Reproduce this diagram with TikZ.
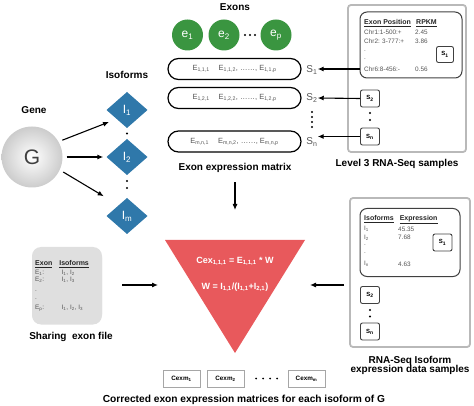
\documentclass[tikz,border=0pt]{standalone}
\usepackage{fontspec}
\setmainfont{Liberation Sans}
\usetikzlibrary{shapes.geometric,arrows.meta,calc,shadows}
\definecolor{dblue}{HTML}{2F78AA}
\definecolor{egreen}{HTML}{3A9540}
\definecolor{tred}{HTML}{E8595C}
\definecolor{txtg}{HTML}{555555}
\newcommand{\myfs}[1]{\fontsize{#1}{#1}\selectfont}
\begin{document}
\begin{tikzpicture}[x=1pt,y=-1pt,
  lbl/.style={font=\bfseries\myfs{10}, align=center},
  arr/.style={-{Latex[length=6pt,width=5pt]}, line width=1.1pt},
  ecirc/.style={circle, fill=egreen, minimum size=31pt, inner sep=0pt, text=white, font=\myfs{12}},
  isotxt/.style={text=white, font=\myfs{12}, minimum width=41pt, minimum height=36pt, inner sep=0pt},
  rowbox/.style={draw, line width=1.2pt, rounded corners=10.5pt, minimum width=133pt, minimum height=21pt, inner sep=0pt, text=txtg, font=\myfs{7.5}},
  slab/.style={text=txtg, font=\myfs{10}, inner sep=0pt},
  outbox/.style={draw=gray!55, line width=1.8pt, rounded corners=3pt, inner sep=0pt},
  inbox/.style={draw=gray!50!black, line width=1pt, rounded corners=7pt, inner sep=0pt},
  sbox/.style={draw=gray!50!black, line width=0.9pt, rounded corners=2pt, minimum width=19pt, minimum height=17pt, inner sep=0pt, font=\bfseries\myfs{6}},
  tbl/.style={anchor=west, inner sep=0pt, text=txtg, font=\myfs{6.4}},
  tblh/.style={anchor=west, inner sep=0pt, text=black!85, font=\bfseries\myfs{7}},
  cbox/.style={draw=gray!70, line width=0.9pt, minimum width=37pt, minimum height=17pt, inner sep=0pt, font=\bfseries\myfs{6.3}},
  tri/.style={text=white, font=\bfseries\myfs{9}, inner sep=0pt},
  dotf/.style={fill=black}
]
\useasboundingbox (0,0) rectangle (474,406);

% Gene and isoforms
\node[lbl] (genelbl) at (34,110) {Gene};
\node[circle, minimum size=61pt, inner sep=0pt, shading=radial, inner color=white, outer color=gray!40, font=\myfs{21}, text=black!75] (G) at (32,157) {G};
\node[lbl] (isolbl) at (127,75) {Isoforms};
\path[fill=dblue] (127,92) -- (147.5,110) -- (127,128) -- (106.5,110) -- cycle;
\path[fill=dblue] (127,139) -- (147.5,157) -- (127,175) -- (106.5,157) -- cycle;
\path[fill=dblue] (127,198) -- (147.5,216) -- (127,234) -- (106.5,216) -- cycle;
\node[isotxt] (I1) at (127,110) {I\textsubscript{1}};
\node[isotxt] (I2) at (127,157) {I\textsubscript{2}};
\node[isotxt] (Im) at (127,216) {I\textsubscript{m}};
\coordinate (I1in) at (109,122);
\fill[dotf] (127,133.5) circle (1.2);
\fill[dotf] (127,181) circle (1.2);
\fill[dotf] (127,188) circle (1.2);
\draw[arr, shorten <=4pt] (G.30) -- (I1in);
\draw[arr, shorten <=4pt, shorten >=3pt] (G.east) -- (I2.west);
\draw[arr, shorten <=4pt, shorten >=3pt] (G.-25) -- (Im.north west);

% Exons
\node[lbl] (exlbl) at (235,7) {Exons};
\node[ecirc] (e1) at (187.5,35) {e\textsubscript{1}};
\node[ecirc] (e2) at (224,35) {e\textsubscript{2}};
\node[ecirc] (ep) at (276,35) {e\textsubscript{p}};
\foreach \x in {245,250,255} \fill[dotf] (\x,35) circle (1.2);

% Exon expression matrix
\node[rowbox] (r1) at (234.5,69) {E\textsubscript{1,1,1}\hspace{9pt}E\textsubscript{1,1,2}, \dots\dots, E\textsubscript{1,1,p}};
\node[rowbox] (r2) at (234.5,98) {E\textsubscript{1,2,1}\hspace{9pt}E\textsubscript{1,2,2}, \dots\dots, E\textsubscript{1,2,p}};
\node[rowbox] (r3) at (234.5,141.5) {E\textsubscript{m,n,1}\hspace{9pt}E\textsubscript{m,n,2}, \dots\dots, E\textsubscript{m,n,p}};
\node[slab] (S1) at (312,70) {S\textsubscript{1}};
\node[slab] (S2) at (312,98) {S\textsubscript{2}};
\node[slab] (Sn) at (312,142) {S\textsubscript{n}};
\foreach \y in {112,117,122,127} \fill[dotf] (312,\y) circle (1.1);
\node[lbl] (matlbl) at (235,168) {Exon expression matrix};

% Level 3 RNA-Seq samples
\node[outbox, minimum width=118pt, minimum height=147pt] (l3) at (407,78.5) {};
\node[inbox, minimum width=102pt, minimum height=66pt] (l3in) at (411,45) {};
\node[tblh] (h1) at (364,23) {\underline{Exon Position}};
\node[tblh] (h2) at (416,23) {\underline{RPKM}};
\node[tbl] (c1) at (364,32.5) {Chr1:1-500:+};
\node[tbl] (v1) at (415,32.5) {2.45};
\node[tbl] (c2) at (364,41.5) {Chr2: 3-777:+};
\node[tbl] (v2) at (415,41.5) {3.86};
\node[tbl] (d1) at (364,51) {.};
\node[tbl] (d2) at (364,59) {.};
\node[tbl] (c6) at (364,69) {Chr6:8-456:-};
\node[tbl] (v6) at (415,69) {0.56};
\node[sbox, minimum width=17pt, minimum height=16pt] (l3s1) at (445,54.5) {S\textsubscript{1}};
\node[sbox] (l3s2) at (370,98.5) {S\textsubscript{2}};
\node[sbox] (l3sn) at (370,136.5) {S\textsubscript{n}};
\fill[dotf] (370,113) circle (1.1);
\fill[dotf] (370,120) circle (1.1);
\node[lbl] (l3lbl) at (397,164) {Level 3 RNA-Seq samples};
\draw[arr] (l3in.west |- 0,69) -- (S1.east |- 0,69);
\draw[arr] (l3s2.west) -- (S2.east);
\draw[arr] (l3sn.west) -- (Sn.east |- l3sn.west);

% Triangle
\fill[tred] (165,240) coordinate (tA) -- (305,240) coordinate (tB) -- (235,353) coordinate (tC) -- cycle;
\node[tri] (f1) at (235,261) {Cex\textsubscript{1,1,1} = E\textsubscript{1,1,1} * W};
\node[tri] (f2) at (235,287.5) {W = I\textsubscript{1,1}/(I\textsubscript{1,1}+I\textsubscript{2,1})};
\coordinate (triL) at (158,285);
\coordinate (triR) at (310,285);
\draw[arr] (matlbl.south) ++(0,6) coordinate (mo) -- (235,210) coordinate (ti);

% Sharing exon file
\node[fill=gray!25, rounded corners=9pt, minimum width=70pt, minimum height=76pt, inner sep=0pt, drop shadow={opacity=0.25, shadow xshift=0pt, shadow yshift=-1.5pt}] (share) at (67,285) {};
\node[tblh] (sh1) at (35,264) {\underline{Exon}\hspace{7pt}\underline{Isoforms}};
\node[tbl] (se1) at (35,272.5) {E\textsubscript{1}:};
\node[tbl] (si1) at (61.5,272.5) {I\textsubscript{1}, I\textsubscript{2}};
\node[tbl] (se2) at (35,280) {E\textsubscript{2}:};
\node[tbl] (si2) at (61.5,280) {I\textsubscript{1}, I\textsubscript{3}};
\node[tbl] (sd1) at (35,291) {.};
\node[tbl] (sd2) at (35,299) {.};
\node[tbl] (sep) at (35,308) {E\textsubscript{p}:};
\node[tbl] (sip) at (61.5,308) {I\textsubscript{1}, I\textsubscript{2}, I\textsubscript{3}};
\node[lbl] (sharelbl) at (71,337) {Sharing\ \ exon file};
\draw[arr, shorten <=20pt] (share.east) -- (triL);

% RNA-Seq isoform expression
\node[outbox, minimum width=120pt, minimum height=149pt] (rs) at (410,272.5) {};
\node[inbox, minimum width=100pt, minimum height=68pt] (rsin) at (410,242.5) {};
\node[tblh] (rh1) at (364,220) {\underline{Isoforms}\hspace{6pt}\underline{Expression}};
\node[tbl] (ri1) at (364,229) {I\textsubscript{1}};
\node[tbl] (rv1) at (398,229) {45.35};
\node[tbl] (ri2) at (364,237.5) {I\textsubscript{2}};
\node[tbl] (rv2) at (398,237.5) {7.68};
\node[tbl] (rd1) at (364,245) {.};
\node[tbl] (rd2) at (364,253) {.};
\node[tbl] (rin) at (364,264) {I\textsubscript{n}};
\node[tbl] (rvn) at (398,264) {4.63};
\node[sbox] (rss1) at (442.5,242.5) {S\textsubscript{1}};
\node[sbox] (rss2) at (370,295) {S\textsubscript{2}};
\node[sbox] (rssn) at (370,331.5) {S\textsubscript{n}};
\fill[dotf] (370,310) circle (1.1);
\fill[dotf] (370,316.5) circle (1.1);
\node[lbl, font=\bfseries\myfs{10}, align=center] (rslbl) at (410,365.5) {RNA-Seq Isoform\\[-1pt]expression data samples};
\draw[arr, shorten <=5pt] (rs.west |- triR) -- (triR);

% Corrected matrices
\node[cbox] (cx1) at (181.5,378.5) {Cexm\textsubscript{1}};
\node[cbox] (cx2) at (225.5,378.5) {Cexm\textsubscript{2}};
\node[cbox] (cxm) at (306.5,378.5) {Cexm\textsubscript{m}};
\foreach \x in {256,263,270,277} \fill[dotf] (\x,378.5) circle (1);
\node[lbl, font=\bfseries\myfs{10.2}] (corlbl) at (244,399.5) {Corrected exon expression matrices for each isoform of G};
\end{tikzpicture}
\end{document}
